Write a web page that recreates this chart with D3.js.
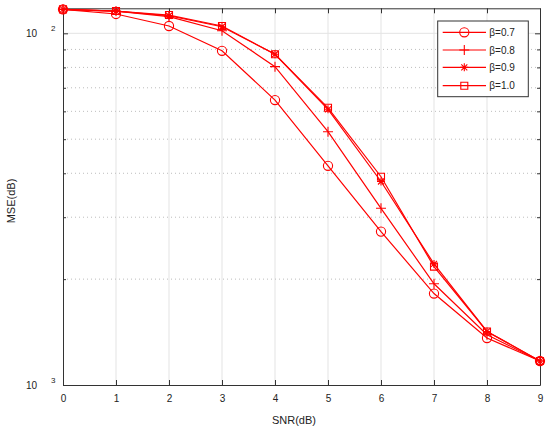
<!DOCTYPE html>
<html>
<head>
<meta charset="utf-8">
<title></title>
<script src="https://d3js.org/d3.v7.min.js"></script>
<style>
body { margin: 0; background: #fff; }
svg { display: block; font-family: Arial, "Liberation Sans", sans-serif; }
</style>
</head>
<body>
<div id="chart"></div>
<script>
// data
const snr = [0, 1, 2, 3, 4, 5, 6, 7, 8, 9];
const seriesNames = ['β=0.7', 'β=0.8', 'β=0.9', 'β=1.0'];
const beta07 = [11700, 11350, 10490, 8920, 6460, 4200, 2730, 1820, 1360, 1170];
const beta08 = [11700, 11570, 11150, 10170, 8040, 5250, 3180, 1940, 1390, 1170];
const beta09 = [11700, 11570, 11220, 10440, 8720, 6080, 3790, 2210, 1420, 1170];
const beta10 = [11700, 11570, 11270, 10490, 8720, 6140, 3910, 2170, 1420, 1170];
const markers = ['circle', 'plus', 'star', 'square'];
const yMajor = [1000, 10000];
const yExponents = ['3', '2'];
const yMinor = [2000, 3000, 4000, 5000, 6000, 7000, 8000, 9000];

const width = 550, height = 431;
const margin = { top: 8.3, right: 10, bottom: 46, left: 63 };
const red = '#ff0000';

const svg = d3.select('#chart').append('svg')
    .attr('width', width)
    .attr('height', height);

const x = d3.scaleLinear().domain([0, 9]).range([margin.left, width - margin.right]);
const y = d3.scaleLog().domain([1000, 11780]).range([height - margin.bottom, margin.top]);

const x0 = x.range()[0], x1 = x.range()[1];
const y0 = y.range()[0], y1 = y.range()[1];

// grid
const grid = svg.append('g');
grid.selectAll('.vgrid')
    .data(snr.slice(1, -1))
    .join('line')
    .attr('x1', d => x(d)).attr('x2', d => x(d))
    .attr('y1', y0).attr('y2', y1)
    .attr('stroke', '#e3e3e3').attr('stroke-width', 1);
grid.selectAll('.hgrid')
    .data(yMajor.filter(d => d > 1000))
    .join('line')
    .attr('x1', x0).attr('x2', x1)
    .attr('y1', d => y(d)).attr('y2', d => y(d))
    .attr('stroke', '#e3e3e3').attr('stroke-width', 1);
grid.selectAll('.mgrid')
    .data(yMinor)
    .join('line')
    .attr('x1', x0).attr('x2', x1)
    .attr('y1', d => y(d)).attr('y2', d => y(d))
    .attr('stroke', '#bdbdbd').attr('stroke-width', 1)
    .attr('stroke-dasharray', '1,3');

// axes (ticks pointing inward like matlab)
const axisColor = '#333';
function styleAxis(g) {
    g.select('.domain').attr('stroke', axisColor);
    g.selectAll('.tick line').attr('stroke', axisColor);
    g.selectAll('text').attr('fill', '#222').attr('font-size', 10);
}

svg.append('g')
    .attr('transform', `translate(0,${y0})`)
    .call(d3.axisBottom(x).tickValues(snr).tickSizeInner(-5).tickSizeOuter(0).tickPadding(10))
    .call(styleAxis)
    .call(g => g.selectAll('.tick text').attr('font-family', 'Arial, "Liberation Sans", sans-serif'));

svg.append('g')
    .attr('transform', `translate(0,${y1})`)
    .call(d3.axisTop(x).tickValues(snr).tickSizeInner(-5).tickSizeOuter(0).tickFormat(''))
    .call(styleAxis);

const yAxisL = svg.append('g')
    .attr('transform', `translate(${x0},0)`)
    .call(d3.axisLeft(y).tickValues(yMajor).tickSizeInner(-5).tickSizeOuter(0).tickFormat(''))
    .call(styleAxis);
yAxisL.selectAll('.tick').each(function (d, i) {
    const t = d3.select(this);
    t.append('text')
        .attr('x', -26).attr('y', 3)
        .attr('text-anchor', 'end')
        .attr('font-size', 10).attr('fill', '#222')
        .text('10');
    t.append('text')
        .attr('x', -12).attr('y', -3)
        .attr('text-anchor', 'start')
        .attr('font-size', 8).attr('fill', '#222')
        .text(yExponents[i]);
});
svg.append('g')
    .attr('transform', `translate(${x0},0)`)
    .call(d3.axisLeft(y).tickValues(yMinor).tickSizeInner(-3).tickSizeOuter(0).tickFormat(''))
    .call(styleAxis)
    .call(g => g.select('.domain').remove());

svg.append('g')
    .attr('transform', `translate(${x1},0)`)
    .call(d3.axisRight(y).tickValues(yMajor).tickSizeInner(-5).tickSizeOuter(0).tickFormat(''))
    .call(styleAxis);
svg.append('g')
    .attr('transform', `translate(${x1},0)`)
    .call(d3.axisRight(y).tickValues(yMinor).tickSizeInner(-3).tickSizeOuter(0).tickFormat(''))
    .call(styleAxis)
    .call(g => g.select('.domain').remove());

// axis titles
svg.append('text')
    .attr('x', 294).attr('y', 424)
    .attr('text-anchor', 'middle')
    .attr('font-size', 11).attr('fill', '#222')
    .text('SNR(dB)');
svg.append('text')
    .attr('transform', 'translate(15,201) rotate(-90)')
    .attr('text-anchor', 'middle')
    .attr('font-size', 11).attr('fill', '#222')
    .text('MSE(dB)');

// markers
function markerPath(type) {
    switch (type) {
        case 'plus': return 'M-5,0H5M0,-5V5';
        case 'star': return 'M-4,0H4M0,-4V4M-3,-3L3,3M-3,3L3,-3';
        case 'square': return 'M-3.5,-3.5H3.5V3.5H-3.5Z';
        default: return d3.symbol(d3.symbolCircle, Math.PI * 4.6 * 4.6)();
    }
}

const allSeries = [beta07, beta08, beta09, beta10];
const line = d3.line()
    .x((d, i) => x(snr[i]))
    .y(d => y(d));

const plot = svg.append('g');
allSeries.forEach((vals, k) => {
    plot.append('path')
        .datum(vals)
        .attr('d', line)
        .attr('fill', 'none')
        .attr('stroke', red)
        .attr('stroke-width', 1.2);
    plot.selectAll('.m' + k)
        .data(vals)
        .join('path')
        .attr('transform', (d, i) => `translate(${x(snr[i])},${y(d)})`)
        .attr('d', markerPath(markers[k]))
        .attr('fill', 'none')
        .attr('stroke', red)
        .attr('stroke-width', 1.1);
});

// legend
const legend = svg.append('g').attr('transform', 'translate(437.7,21)');
legend.append('rect')
    .attr('width', 90.6).attr('height', 75.7)
    .attr('fill', '#fff')
    .attr('stroke', axisColor).attr('stroke-width', 1);
const rowY = [11.3, 29, 46.3, 64.7];
seriesNames.forEach((name, k) => {
    const row = legend.append('g').attr('transform', `translate(0,${rowY[k]})`);
    row.append('line')
        .attr('x1', 5).attr('x2', 48.3)
        .attr('stroke', red).attr('stroke-width', 1.2);
    row.append('path')
        .attr('transform', 'translate(26.6,0)')
        .attr('d', markerPath(markers[k]))
        .attr('fill', 'none').attr('stroke', red).attr('stroke-width', 1.1);
    row.append('text')
        .attr('x', 51.6).attr('y', 3.5)
        .attr('font-size', 10).attr('fill', '#222')
        .text(name);
});
</script>
</body>
</html>
